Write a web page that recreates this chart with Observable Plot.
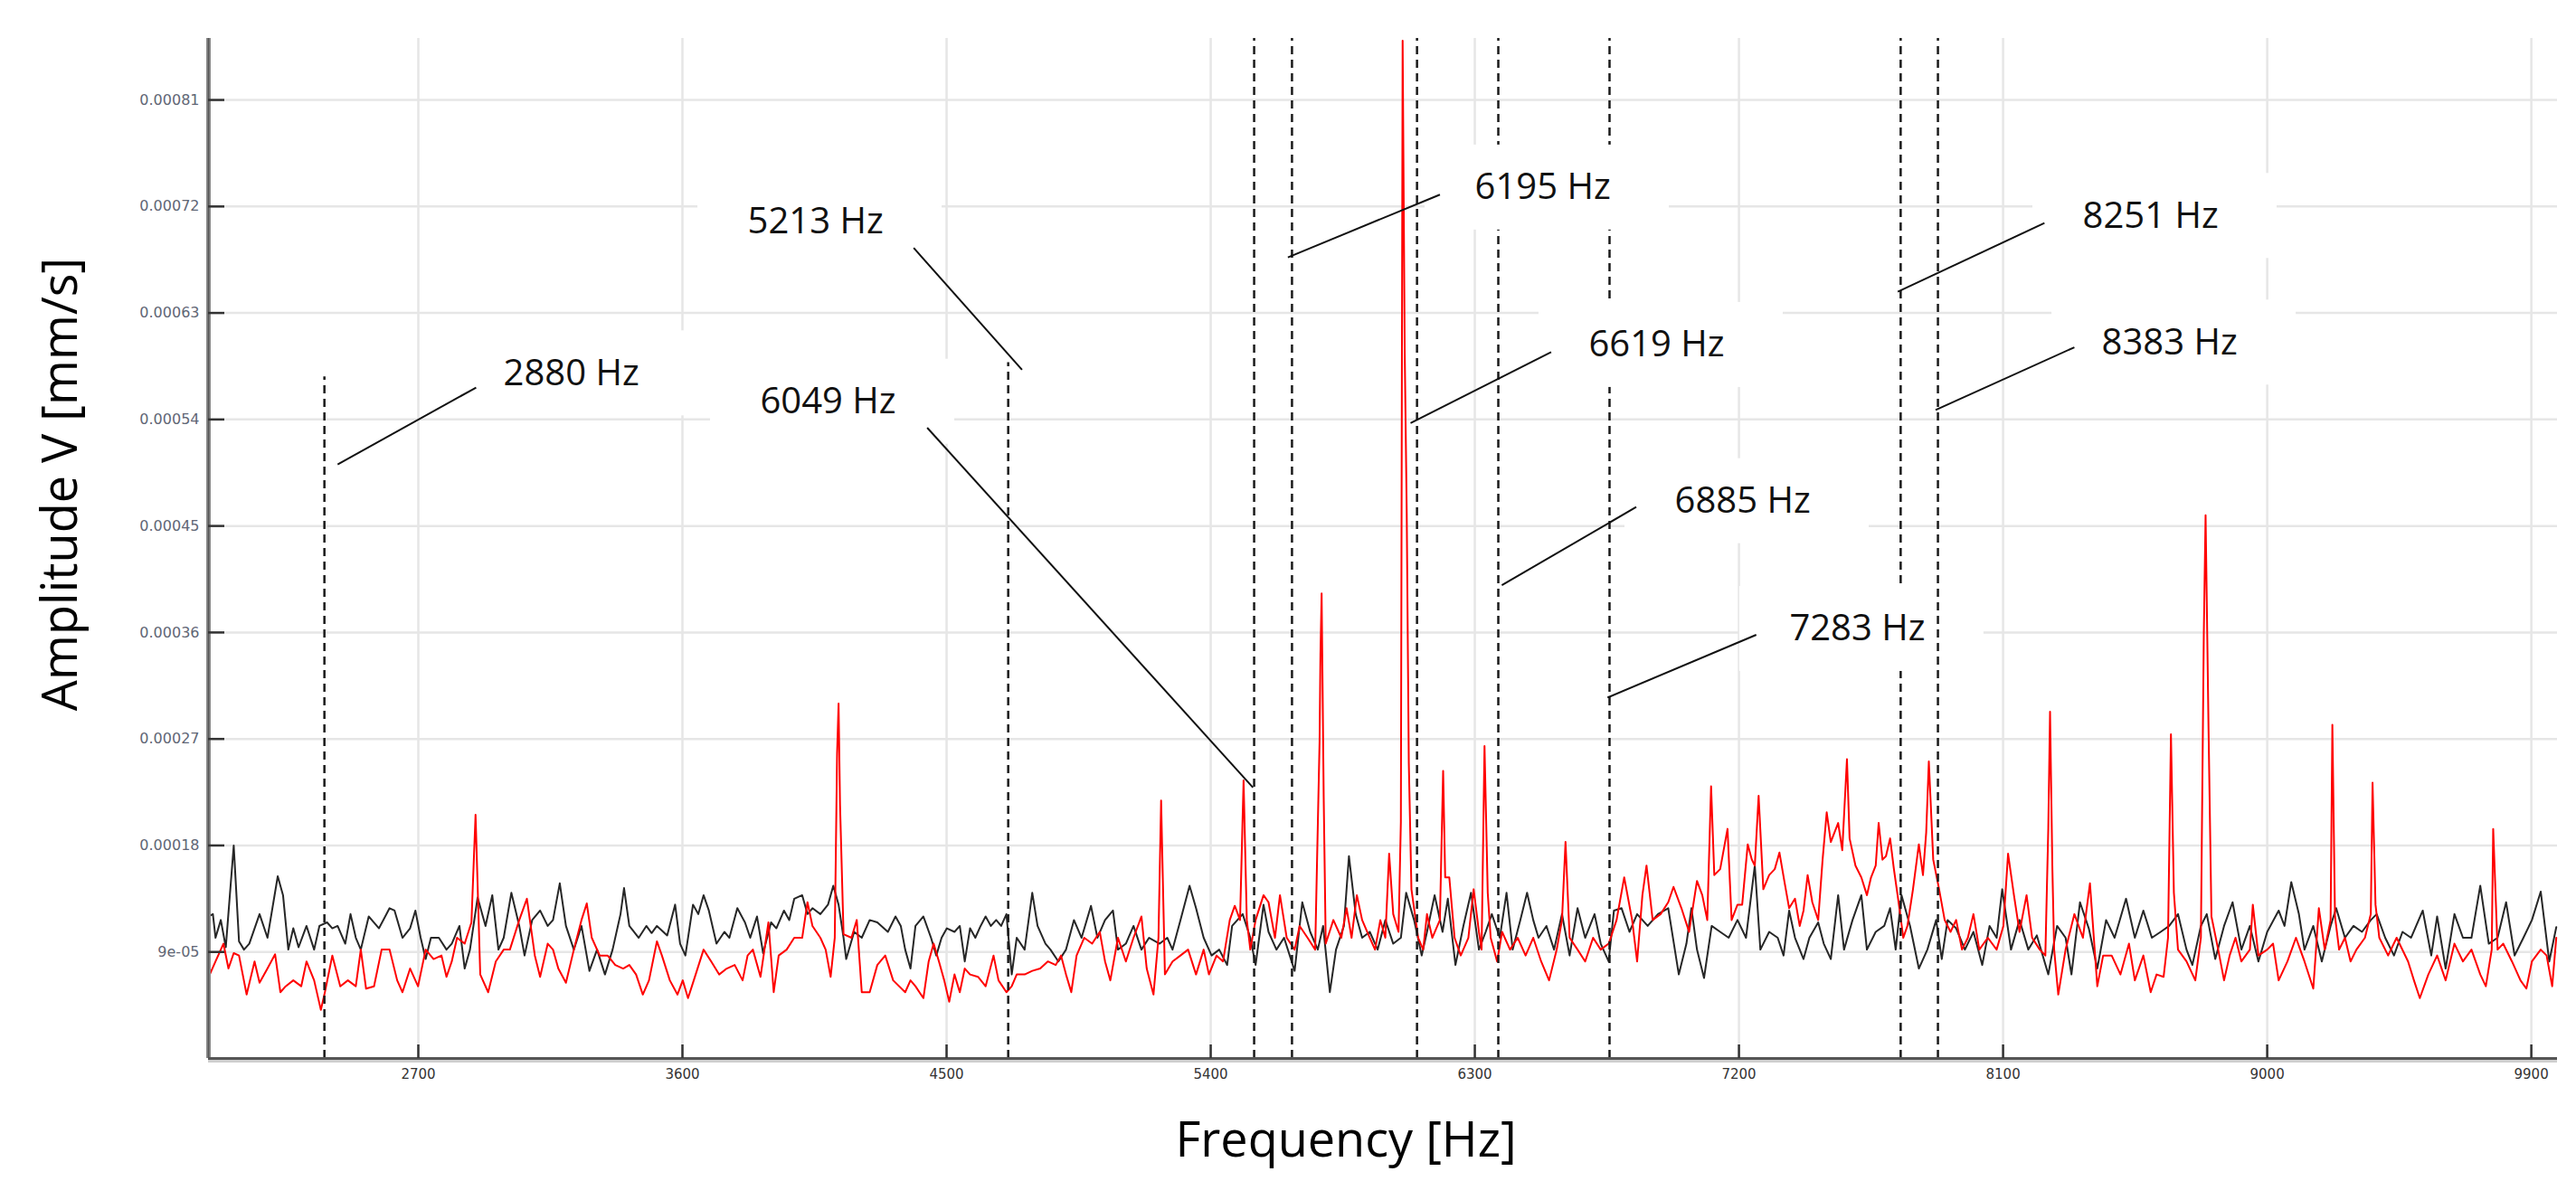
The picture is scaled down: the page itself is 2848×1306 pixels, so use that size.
<!DOCTYPE html>
<html>
<head>
<meta charset="utf-8">
<script src="https://cdn.jsdelivr.net/npm/d3@7"></script>
<script src="https://cdn.jsdelivr.net/npm/@observablehq/plot@0.6"></script>
<style>
  html, body { margin: 0; padding: 0; background: #ffffff; }
  #chart svg { display: block; }
</style>
</head>
<body>
<div id="chart"></div>
<script>
// ---------- DATA (frequency in Hz, amplitude in units of 1e-5 mm/s) ----------
const blackSpectrum = [
[1986,12.0],[2000,12.2],[2009,10.2],[2027,11.7],[2044,9.4],[2071,18.0],[2089,9.9],[2106,9.2],[2124,9.7],[2159,12.2],
[2186,10.2],[2221,15.4],[2239,13.8],[2257,9.2],[2274,11.0],[2292,9.4],[2319,11.2],[2345,9.2],[2363,11.2],[2389,11.5],
[2407,11.0],[2425,11.2],[2451,9.7],[2469,12.2],[2487,10.2],[2504,9.2],[2531,12.0],[2566,11.0],[2602,12.7],[2619,12.5],
[2646,10.2],[2672,11.0],[2690,12.5],[2708,10.2],[2725,8.4],[2743,10.2],[2770,10.2],[2796,9.2],[2814,9.7],[2840,11.2],
[2858,7.6],[2876,9.2],[2902,13.6],[2929,11.2],[2952,13.8],[2973,9.2],[2991,10.2],[3017,14.0],[3044,11.2],[3062,8.7],
[3088,11.7],[3115,12.5],[3141,11.2],[3159,11.7],[3182,14.8],[3203,11.2],[3230,9.2],[3256,11.2],[3283,7.4],[3309,9.2],
[3336,7.1],[3362,9.2],[3389,12.2],[3401,14.4],[3419,11.2],[3451,10.2],[3477,11.2],[3495,10.6],[3513,11.2],[3548,10.4],
[3575,13.0],[3592,9.7],[3610,8.7],[3636,13.0],[3654,12.2],[3672,13.8],[3690,12.5],[3716,9.7],[3743,10.7],[3760,10.2],
[3787,12.7],[3813,11.5],[3831,10.2],[3854,12.0],[3875,8.9],[3902,11.5],[3920,11.0],[3946,12.5],[3964,11.7],[3981,13.5],
[4008,13.8],[4026,12.2],[4043,12.7],[4070,12.2],[4096,13.0],[4114,14.6],[4132,13.0],[4149,10.2],[4158,8.4],[4185,10.7],
[4211,10.2],[4238,11.7],[4264,11.5],[4300,10.7],[4326,12.0],[4344,11.2],[4359,9.2],[4377,7.6],[4394,11.2],[4421,12.0],
[4447,10.2],[4465,8.7],[4483,10.2],[4501,11.0],[4527,10.7],[4545,11.2],[4562,8.2],[4580,11.0],[4598,10.2],[4616,11.2],
[4633,12.0],[4651,11.2],[4669,11.7],[4686,11.2],[4704,12.2],[4722,7.1],[4739,10.2],[4766,9.2],[4792,14.0],[4810,11.2],
[4837,9.7],[4854,9.2],[4881,8.2],[4907,9.2],[4934,11.7],[4960,10.2],[4992,12.9],[5014,10.2],[5040,11.7],[5067,12.5],
[5084,9.2],[5111,9.7],[5137,11.2],[5164,9.2],[5190,10.2],[5226,9.7],[5252,10.2],[5270,9.2],[5297,11.7],[5328,14.6],
[5350,12.7],[5376,10.2],[5403,8.7],[5429,9.2],[5456,7.9],[5473,11.2],[5509,12.2],[5535,10.2],[5553,7.9],[5580,13.0],
[5597,10.7],[5624,9.2],[5650,10.2],[5686,7.4],[5712,13.2],[5739,10.7],[5765,9.2],[5783,11.2],[5806,5.6],[5827,9.2],
[5854,11.2],[5871,17.1],[5894,12.2],[5916,10.2],[5942,10.7],[5969,9.2],[5995,11.7],[6022,9.7],[6048,10.2],[6066,14.0],
[6093,11.7],[6119,8.7],[6137,10.7],[6163,13.8],[6190,10.7],[6208,13.5],[6234,7.9],[6261,11.2],[6287,14.0],[6314,9.2],
[6337,10.7],[6358,12.2],[6385,10.2],[6408,14.0],[6429,9.2],[6455,11.7],[6478,14.0],[6499,11.7],[6517,10.2],[6544,11.2],
[6570,9.2],[6597,12.2],[6623,8.7],[6650,12.7],[6676,10.2],[6708,12.2],[6729,9.7],[6756,8.2],[6774,12.5],[6800,12.7],
[6827,10.7],[6853,12.2],[6889,11.2],[6924,12.2],[6959,12.7],[6995,7.1],[7021,9.7],[7038,12.7],[7057,9.2],[7081,6.8],
[7107,11.2],[7136,10.7],[7165,10.2],[7195,11.7],[7224,10.2],[7254,16.3],[7273,9.2],[7303,10.7],[7332,10.2],[7352,8.7],
[7371,12.5],[7391,10.2],[7420,8.4],[7440,10.2],[7470,11.5],[7489,9.7],[7513,8.4],[7538,13.8],[7558,9.2],[7587,11.7],
[7617,13.8],[7636,9.2],[7666,10.7],[7695,11.2],[7715,12.7],[7734,9.2],[7754,13.8],[7783,11.2],[7813,7.6],[7842,9.2],
[7872,11.7],[7891,8.4],[7911,11.7],[7940,11.0],[7970,9.2],[7999,10.7],[8029,7.9],[8054,11.2],[8078,10.2],[8097,14.3],
[8127,9.2],[8156,11.7],[8186,9.2],[8215,10.4],[8254,7.1],[8284,11.2],[8313,10.2],[8333,7.1],[8362,13.2],[8392,11.0],
[8421,7.6],[8451,11.7],[8480,10.2],[8519,13.5],[8549,10.2],[8578,12.5],[8607,10.2],[8637,10.7],[8666,11.2],[8696,12.2],
[8725,9.2],[8745,7.9],[8774,11.2],[8794,12.2],[8823,8.4],[8853,11.2],[8882,13.2],[8912,9.2],[8941,11.2],[8970,8.2],
[9000,10.7],[9039,12.5],[9059,11.2],[9082,14.9],[9108,12.2],[9127,9.2],[9157,11.2],[9186,8.2],[9216,11.2],[9235,12.7],
[9265,10.2],[9294,11.2],[9323,10.7],[9353,11.7],[9373,12.2],[9402,10.2],[9432,8.7],[9461,10.7],[9490,10.2],[9530,12.5],
[9559,8.7],[9579,12.0],[9608,7.6],[9638,12.2],[9667,10.2],[9696,10.2],[9726,14.6],[9755,9.7],[9785,10.2],[9814,13.2],
[9843,8.7],[9873,10.2],[9902,11.7],[9932,14.1],[9961,8.2],[9985,11.1]
];

const redSpectrum = [
[1986,6.9],[2009,8.2],[2036,9.7],[2053,7.6],[2071,8.9],[2089,8.7],[2115,5.4],[2142,8.2],[2159,6.4],[2186,7.6],
[2212,8.8],[2230,5.6],[2248,6.1],[2274,6.6],[2301,6.1],[2319,8.2],[2345,6.6],[2368,4.1],[2380,5.4],[2407,8.7],
[2434,6.1],[2460,6.6],[2487,6.1],[2504,9.2],[2522,5.9],[2549,6.1],[2575,9.2],[2602,9.2],[2628,6.6],[2646,5.6],
[2672,7.6],[2699,6.1],[2725,9.2],[2752,8.4],[2779,8.7],[2796,6.9],[2814,8.2],[2832,10.2],[2858,9.7],[2881,11.5],
[2895,20.6],[2911,7.1],[2938,5.6],[2964,8.2],[2991,9.2],[3012,9.2],[3044,11.7],[3070,13.5],[3097,8.7],[3115,6.9],
[3141,9.7],[3159,9.2],[3177,7.6],[3203,6.4],[3230,9.2],[3256,11.7],[3274,13.1],[3291,10.2],[3318,8.7],[3345,8.7],
[3371,7.9],[3398,7.6],[3419,7.9],[3442,7.1],[3465,5.4],[3486,6.6],[3513,9.9],[3530,8.7],[3557,6.6],[3583,5.4],
[3601,6.6],[3619,5.1],[3645,7.1],[3672,9.2],[3698,8.2],[3725,7.1],[3751,7.6],[3778,7.9],[3805,6.6],[3822,8.7],
[3840,9.2],[3866,6.9],[3893,11.5],[3911,5.6],[3928,8.7],[3955,9.2],[3981,10.2],[4008,10.2],[4026,13.2],[4043,11.2],
[4070,10.2],[4088,9.2],[4105,6.9],[4119,10.2],[4127,25.8],[4132,30.0],[4137,21.4],[4149,10.5],[4176,10.2],[4194,11.7],
[4211,5.6],[4238,5.6],[4264,7.9],[4291,8.7],[4318,6.6],[4359,5.6],[4377,6.6],[4394,6.1],[4421,5.1],[4439,8.2],
[4456,9.7],[4474,8.2],[4492,6.6],[4509,4.8],[4527,7.1],[4545,5.6],[4562,7.6],[4580,7.1],[4607,6.9],[4633,6.1],
[4660,8.7],[4677,6.6],[4704,5.6],[4722,6.1],[4739,7.1],[4766,7.1],[4792,7.4],[4819,7.6],[4845,8.2],[4872,7.9],
[4890,8.7],[4907,7.1],[4925,5.6],[4943,8.7],[4969,10.2],[4996,9.7],[5022,10.7],[5040,8.2],[5058,6.6],[5084,10.2],
[5111,8.2],[5137,10.2],[5164,12.0],[5182,7.6],[5205,5.4],[5222,10.2],[5231,21.8],[5244,7.1],[5270,8.2],[5297,8.7],
[5323,9.2],[5350,7.1],[5376,9.2],[5394,7.1],[5420,8.7],[5442,8.2],[5465,11.7],[5482,12.9],[5500,11.7],[5512,23.5],
[5523,11.7],[5535,9.2],[5553,11.7],[5580,13.8],[5597,13.2],[5619,10.2],[5636,13.8],[5659,10.2],[5686,9.2],[5703,11.2],
[5730,10.2],[5756,9.2],[5771,26.8],[5774,34.2],[5778,39.3],[5785,22.1],[5792,9.7],[5818,11.7],[5845,10.2],[5863,12.7],
[5880,10.2],[5898,13.8],[5916,11.7],[5942,10.2],[5960,9.2],[5978,11.7],[5995,10.2],[6008,17.3],[6022,12.2],[6040,10.7],
[6048,20.0],[6054,86.0],[6061,60.0],[6068,46.0],[6075,25.0],[6084,14.3],[6107,10.2],[6124,9.2],[6137,12.2],[6155,10.2],
[6181,11.7],[6192,24.3],[6199,15.3],[6213,15.3],[6231,10.2],[6252,8.7],[6278,10.2],[6296,14.3],[6314,10.7],[6323,9.2],
[6333,26.4],[6344,14.0],[6354,10.2],[6376,8.2],[6393,10.7],[6420,9.2],[6446,10.2],[6473,8.7],[6499,10.2],[6526,8.2],
[6553,6.6],[6579,9.2],[6597,11.7],[6609,18.3],[6623,10.2],[6650,9.2],[6676,8.2],[6703,10.2],[6729,9.2],[6756,9.7],
[6783,11.7],[6809,15.3],[6836,11.7],[6853,8.2],[6871,13.8],[6885,16.3],[6906,11.7],[6933,12.2],[6959,13.2],[6977,14.5],
[7004,12.7],[7030,10.7],[7057,15.0],[7075,13.8],[7092,11.7],[7105,23.0],[7116,15.5],[7136,16.0],[7161,19.4],[7175,11.7],
[7195,13.0],[7211,13.0],[7230,18.1],[7244,16.8],[7254,16.3],[7267,22.2],[7283,14.3],[7303,15.5],[7322,16.0],[7338,17.4],
[7356,14.8],[7371,12.7],[7391,13.5],[7407,11.2],[7420,12.5],[7434,15.5],[7450,13.2],[7470,11.7],[7485,16.8],[7499,20.8],
[7513,18.3],[7538,19.9],[7552,17.6],[7568,25.3],[7577,18.6],[7597,16.3],[7617,15.3],[7636,13.8],[7650,15.3],[7666,16.3],
[7676,19.9],[7689,16.8],[7701,17.1],[7715,18.6],[7728,16.0],[7744,13.2],[7760,10.2],[7774,11.2],[7793,14.3],[7813,18.1],
[7827,15.5],[7838,19.1],[7847,25.1],[7862,16.8],[7882,14.3],[7901,11.7],[7921,10.7],[7940,11.7],[7960,9.2],[7980,10.2],
[7999,12.2],[8019,9.2],[8048,10.2],[8078,9.2],[8101,11.2],[8117,17.3],[8137,13.8],[8156,10.7],[8180,13.8],[8199,10.2],
[8225,9.2],[8244,8.7],[8254,19.4],[8260,29.3],[8268,16.0],[8274,9.2],[8288,5.4],[8313,9.2],[8343,12.2],[8372,10.2],
[8396,14.8],[8421,6.1],[8441,8.7],[8470,8.7],[8500,7.1],[8529,9.7],[8549,6.6],[8578,8.7],[8603,5.6],[8623,7.1],
[8647,6.9],[8662,10.2],[8672,27.4],[8682,14.0],[8696,9.2],[8725,8.2],[8755,6.6],[8774,10.2],[8784,36.0],[8790,45.9],
[8800,28.0],[8810,12.0],[8833,9.2],[8853,6.6],[8872,8.7],[8892,10.2],[8912,8.2],[8941,9.2],[8951,13.0],[8970,8.7],
[9000,9.2],[9020,9.7],[9039,6.6],[9069,8.2],[9098,10.2],[9127,8.2],[9157,5.9],[9176,12.7],[9196,9.2],[9216,11.7],
[9222,28.2],[9231,12.0],[9245,9.2],[9265,10.2],[9284,8.2],[9304,9.2],[9333,10.2],[9353,12.2],[9359,23.3],[9369,13.0],
[9382,10.2],[9412,8.7],[9441,10.2],[9480,8.2],[9500,6.6],[9520,5.1],[9549,7.1],[9579,8.7],[9608,6.6],[9638,9.7],
[9667,8.2],[9696,9.2],[9726,7.1],[9745,6.1],[9765,9.2],[9770,19.4],[9785,9.2],[9804,9.7],[9834,8.2],[9863,6.6],
[9883,5.9],[9902,8.2],[9932,9.2],[9952,8.7],[9971,6.1],[9985,10.2]
];

// axis ticks
const xTicks = [2700, 3600, 4500, 5400, 6300, 7200, 8100, 9000, 9900];
const yTicks = [9, 18, 27, 36, 45, 54, 63, 72, 81];           // ×1e-5 mm/s
const yTickLabels = ["9e-05", "0.00018", "0.00027", "0.00036", "0.00045", "0.00054", "0.00063", "0.00072", "0.00081"];

// dashed marker lines (position on the frequency axis, top amplitude ×1e-5)
const markerHz  = [2380, 4710, 5548, 5677, 6103, 6380, 6759, 7751, 7878];
const markerTop = [57.6, 58.8, 86.2, 86.2, 86.2, 86.2, 86.2, 86.2, 86.2];

// annotation labels (anchor = left end / vertical middle of text)
const labelText = ["2880 Hz", "5213 Hz", "6049 Hz", "6195 Hz", "6619 Hz", "6885 Hz", "7283 Hz", "8251 Hz", "8383 Hz"];
const labelHz   = [2990, 3822, 3865, 6300, 6688, 6981, 7372, 8371, 8436];
const labelAmp  = [57.9, 70.7, 55.5, 73.6, 60.3, 47.1, 36.3, 71.2, 60.5];

// leader lines from marker to label
const leaderHz1  = [2425, 4757, 4434, 5663, 6081, 6392, 6752, 7741, 7870];
const leaderAmp1 = [50.2, 58.2, 53.3, 67.7, 53.7, 40.0, 30.5, 64.8, 54.8];
const leaderHz2  = [2897, 4388, 5544, 6181, 6560, 6850, 7259, 8241, 8343];
const leaderAmp2 = [56.7, 68.5, 22.9, 73.0, 59.7, 46.6, 35.8, 70.6, 60.1];

const X_DOMAIN = [1985, 9989];
const Y_MAX = 86.2;

// ---------- BUILD ----------
const U = 1e-5;
const black = blackSpectrum.map(([hz, a]) => ({hz, amp: a * U}));
const red = redSpectrum.map(([hz, a]) => ({hz, amp: a * U}));
const yTickVals = yTicks.map(v => v * U);
const markers = markerHz.map((hz, i) => ({hz, top: markerTop[i] * U}));
const labels = labelText.map((t, i) => ({text: t, hz: labelHz[i], amp: labelAmp[i] * U}));
const leaders = leaderHz1.map((h, i) => ({x1: h, y1: leaderAmp1[i] * U, x2: leaderHz2[i], y2: leaderAmp2[i] * U}));

const yFmt = d => {
  const i = yTickVals.findIndex(t => Math.abs(t - d) < 1e-9);
  return i >= 0 ? yTickLabels[i] : "";
};

const chart = Plot.plot({
  width: 2848,
  height: 1306,
  marginLeft: 230,
  marginRight: 21,
  marginTop: 42,
  marginBottom: 136,
  style: {background: "#ffffff", fontFamily: "'DejaVu Sans', sans-serif", overflow: "visible"},
  x: {domain: X_DOMAIN},
  y: {domain: [0, Y_MAX * U]},
  marks: [
    // grid
    Plot.ruleX(xTicks, {x: d => d, stroke: "#e6e6e6", strokeWidth: 2.5}),
    Plot.ruleY(yTickVals, {y: d => d, stroke: "#e6e6e6", strokeWidth: 2.5}),
    // spectra
    Plot.line(black, {x: "hz", y: "amp", stroke: "#262626", strokeWidth: 2, strokeLinejoin: "round"}),
    Plot.line(red, {x: "hz", y: "amp", stroke: "#ff0000", strokeWidth: 2, strokeLinejoin: "round"}),
    // dashed markers (behind label boxes)
    Plot.ruleX(markers.slice(0, 8), {x: "hz", y1: 0, y2: "top", stroke: "#1a1a1a", strokeWidth: 2.5, strokeDasharray: "9,6"}),
    // white label boxes
    Plot.rect(labels, {x1: "hz", x2: "hz", y1: "amp", y2: "amp", insetLeft: -55, insetRight: -215, insetTop: -47, insetBottom: -47, fill: "#ffffff"}),
    Plot.ruleX(markers.slice(8), {x: "hz", y1: 0, y2: "top", stroke: "#1a1a1a", strokeWidth: 2.5, strokeDasharray: "9,6"}),
    // leaders
    Plot.link(leaders, {x1: "x1", y1: "y1", x2: "x2", y2: "y2", stroke: "#111", strokeWidth: 2}),
    // labels
    Plot.text(labels, {x: "hz", y: "amp", text: "text", textAnchor: "start", lineAnchor: "middle", fontSize: 40, fontFamily: "'Open Sans', sans-serif", fill: "#111"}),
    // axis lines
    Plot.ruleY([0], {stroke: "#cfcfcf", strokeWidth: 3, dy: 3}),
    Plot.ruleX([X_DOMAIN[0]], {x: d => d, y1: 0, y2: Y_MAX * U, stroke: "#8a8a8a", strokeWidth: 5}),
    Plot.ruleX([X_DOMAIN[0]], {x: d => d, y1: 0, y2: Y_MAX * U, stroke: "#555", strokeWidth: 1.5}),
    Plot.ruleY([0], {stroke: "#555", strokeWidth: 3}),
    // inward tick marks
    Plot.ruleY(yTickVals, {y: d => d, x1: X_DOMAIN[0], x2: X_DOMAIN[0], insetRight: -18, stroke: "#333", strokeWidth: 2.5}),
    Plot.ruleX(xTicks, {x: d => d, y1: 0, y2: 0, insetTop: -15, stroke: "#333", strokeWidth: 2.5}),
    // tick labels
    Plot.axisY({ticks: yTickVals, tickSize: 0, tickPadding: 10, tickFormat: yFmt, fontSize: 16, color: "#5f6675", label: null}),
    Plot.axisX({ticks: xTicks, tickSize: 0, tickPadding: 12, tickFormat: d => String(d), fontSize: 15, color: "#333", label: null}),
    // axis titles
    Plot.text(["Amplitude V [mm/s]"], {text: d => d, frameAnchor: "left", rotate: -90, dx: -163, dy: -71, fontSize: 54, fontFamily: "'Open Sans', sans-serif", fill: "#000", textAnchor: "middle", lineAnchor: "middle"}),
    Plot.text(["Frequency [Hz]"], {text: d => d, frameAnchor: "bottom", dx: -41, dy: 91, fontSize: 54, fontFamily: "'Open Sans', sans-serif", fill: "#000", textAnchor: "middle", lineAnchor: "middle"})
  ]
});

document.getElementById("chart").appendChild(chart);
</script>
</body>
</html>
